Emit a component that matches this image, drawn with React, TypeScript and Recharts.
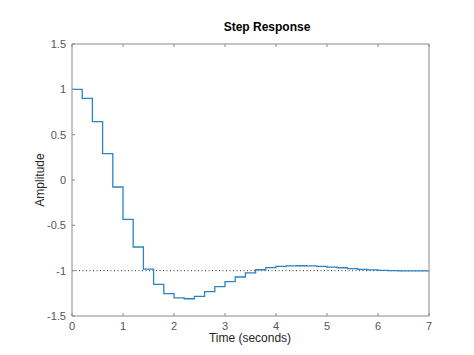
import { LineChart, Line, XAxis, YAxis, ReferenceLine } from "recharts";

const times = [
  0, 0.2, 0.4, 0.6, 0.8, 1.0, 1.2, 1.4, 1.6, 1.8, 2.0, 2.2, 2.4, 2.6, 2.8, 3.0, 3.2, 3.4,
  3.6, 3.8, 4.0, 4.2, 4.4, 4.6, 4.8, 5.0, 5.2, 5.4, 5.6, 5.8, 6.0, 6.2, 6.4, 6.6, 6.8, 7.0,
];
const amplitude = [
  1.0, 0.9, 0.643, 0.29, -0.077, -0.434, -0.739, -0.982, -1.151, -1.254, -1.3, -1.31,
  -1.283, -1.232, -1.176, -1.121, -1.07, -1.025, -0.99, -0.967, -0.952, -0.947, -0.946,
  -0.948, -0.953, -0.96, -0.968, -0.977, -0.985, -0.992, -0.997, -1.0, -1.002, -1.003,
  -1.002, -1.001,
];
const finalValue = -1;
const xTicks = [0, 1, 2, 3, 4, 5, 6, 7];
const yTicks = [-1.5, -1, -0.5, 0, 0.5, 1, 1.5];

const data = times.map((t, i) => ({ t, y: amplitude[i] }));

const AXIS = "#8a8a8a";
const LABEL = "#555";
const FONT = "'Liberation Sans', Arial, sans-serif";

const BottomTick = (props: any) => {
  const { x, y, payload } = props;
  return (
    <g>
      <line x1={x} x2={x} y1={y - 6} y2={y - 9} stroke={AXIS} />
      <text x={x} y={y + 8} textAnchor="middle" fill={LABEL} fontSize={11} fontFamily={FONT}>
        {payload.value}
      </text>
    </g>
  );
};

const LeftTick = (props: any) => {
  const { x, y, payload } = props;
  return (
    <g>
      <line x1={x + 6} x2={x + 9} y1={y} y2={y} stroke={AXIS} />
      <text x={x} y={y + 4} textAnchor="end" fill={LABEL} fontSize={11} fontFamily={FONT}>
        {payload.value}
      </text>
    </g>
  );
};

const TopTick = (props: any) => {
  const { x, y } = props;
  return <line x1={x} x2={x} y1={y} y2={y + 3} stroke={AXIS} />;
};

const RightTick = (props: any) => {
  const { x, y } = props;
  return <line x1={x} x2={x - 3} y1={y} y2={y} stroke={AXIS} />;
};

export default function App() {
  return (
    <div style={{ position: "absolute", left: 0, top: 0, width: 474, height: 355, background: "#fff" }}>
      <LineChart
        width={474}
        height={355}
        data={data}
        margin={{ top: 43, right: 44, bottom: 9, left: 0 }}
      >
        <XAxis
          xAxisId="b"
          dataKey="t"
          type="number"
          domain={[0, 7]}
          ticks={xTicks}
          height={30}
          stroke={AXIS}
          tickLine={false}
          tickSize={0}
          tickMargin={6}
          tick={<BottomTick />}
        />
        <XAxis
          xAxisId="top"
          orientation="top"
          dataKey="t"
          type="number"
          domain={[0, 7]}
          ticks={xTicks}
          height={1}
          stroke={AXIS}
          tickLine={false}
          tickSize={0}
          tickMargin={0}
          tick={<TopTick />}
        />
        <YAxis
          yAxisId="l"
          type="number"
          domain={[-1.5, 1.5]}
          ticks={yTicks}
          width={72}
          stroke={AXIS}
          tickLine={false}
          tickSize={0}
          tickMargin={6}
          tick={<LeftTick />}
        />
        <YAxis
          yAxisId="r"
          orientation="right"
          type="number"
          domain={[-1.5, 1.5]}
          ticks={yTicks}
          width={1}
          stroke={AXIS}
          tickLine={false}
          tickSize={0}
          tickMargin={0}
          tick={<RightTick />}
        />
        <ReferenceLine
          xAxisId="b"
          yAxisId="l"
          y={finalValue}
          stroke="#333"
          strokeDasharray="1 2.5"
          strokeWidth={1}
        />
        <Line
          xAxisId="b"
          yAxisId="l"
          dataKey="y"
          type="stepAfter"
          stroke="#2b84c0"
          strokeWidth={1.3}
          dot={false}
          isAnimationActive={false}
        />
        <text x={267} y={31} textAnchor="middle" fontSize={12} fontWeight="bold" fill="#000" fontFamily={FONT}>
          Step Response
        </text>
        <text x={250} y={342} textAnchor="middle" fontSize={12} fill="#262626" fontFamily={FONT}>
          Time (seconds)
        </text>
        <text
          x={44}
          y={180}
          textAnchor="middle"
          fontSize={12}
          fill="#262626"
          fontFamily={FONT}
          transform="rotate(-90 44 180)"
        >
          Amplitude
        </text>
      </LineChart>
    </div>
  );
}
